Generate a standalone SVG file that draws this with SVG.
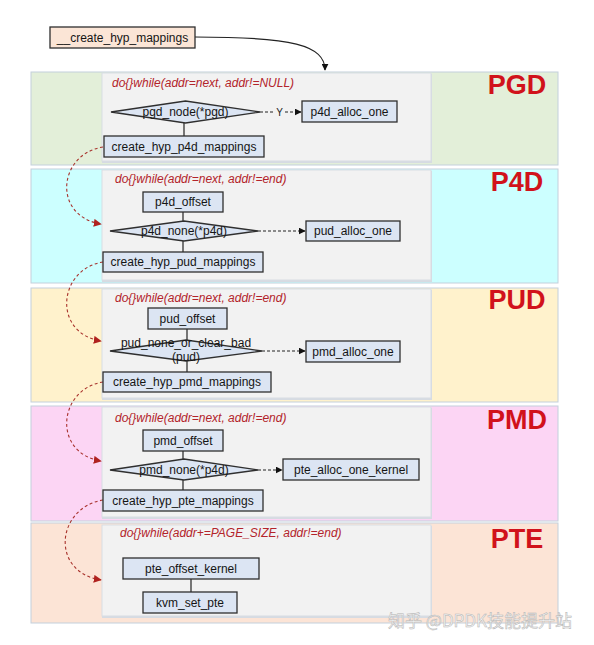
<svg xmlns="http://www.w3.org/2000/svg" width="594" height="645" viewBox="0 0 594 645">
<style>
.band{stroke:#c3d0dc;stroke-width:1}
.inner{fill:#f2f2f2;stroke:#d8dde3;stroke-width:1}
.shadow{fill:#d6dbe2}
.box{fill:#dce5f3;stroke:#2f2f2f;stroke-width:1.3}
.t{font-family:"Liberation Sans",Arial,sans-serif;font-size:12px;fill:#151515;text-anchor:middle}
.loop{font-family:"Liberation Sans",Arial,sans-serif;font-size:12px;font-style:italic;fill:#b3242b}
.lvl{font-family:"Liberation Sans",Arial,sans-serif;font-size:27px;font-weight:bold;fill:#d1121b;text-anchor:middle}
.solid{stroke:#222;stroke-width:1.2;fill:none}
.dash{stroke:#222;stroke-width:1.1;fill:none;stroke-dasharray:3 2}
.rdash{stroke:#a8322c;stroke-width:1.1;fill:none;stroke-dasharray:3 2.5}
</style>
<defs>
<marker id="ab" viewBox="0 0 10 10" refX="9" refY="5" markerWidth="7" markerHeight="7" orient="auto" markerUnits="userSpaceOnUse"><path d="M0,0 L10,5 L0,10 z" fill="#111"/></marker>
<marker id="ar" viewBox="0 0 10 10" refX="9" refY="5" markerWidth="8" markerHeight="8" orient="auto" markerUnits="userSpaceOnUse"><path d="M0,0 L10,5 L0,10 z" fill="#b0221f"/></marker>
</defs>
<rect width="594" height="645" fill="#fff"/>

<!-- bands -->
<g id="band-pgd">
<rect class="band" x="31" y="72" width="527" height="93" fill="#e3efd9"/>
<rect class="shadow" x="102" y="74" width="330" height="89"/>
<rect class="inner" x="102" y="73" width="329" height="88"/>
<text class="lvl" x="517" y="94">PGD</text>
<text class="loop" x="112" y="87">do{}while(addr=next, addr!=NULL)</text>
</g>
<g id="band-p4d">
<rect class="band" x="31" y="169" width="527" height="114" fill="#ccffff"/>
<rect class="shadow" x="102" y="171" width="330" height="111"/>
<rect class="inner" x="102" y="170" width="329" height="110"/>
<text class="lvl" x="517" y="191">P4D</text>
<text class="loop" x="115" y="183">do{}while(addr=next, addr!=end)</text>
</g>
<g id="band-pud">
<rect class="band" x="31" y="288" width="527" height="114" fill="#fff2cc"/>
<rect class="shadow" x="102" y="290" width="330" height="110"/>
<rect class="inner" x="102" y="289" width="329" height="109"/>
<text class="lvl" x="517" y="309">PUD</text>
<text class="loop" x="115" y="302">do{}while(addr=next, addr!=end)</text>
</g>
<g id="band-pmd">
<rect class="band" x="31" y="406" width="527" height="115" fill="#fcd5f4"/>
<rect class="shadow" x="102" y="408" width="330" height="111"/>
<rect class="inner" x="102" y="407" width="329" height="110"/>
<text class="lvl" x="517" y="429">PMD</text>
<text class="loop" x="115" y="422">do{}while(addr=next, addr!=end)</text>
</g>
<g id="band-pte">
<rect class="band" x="31" y="523" width="527" height="100" fill="#fce4d6"/>
<rect class="shadow" x="102" y="526" width="330" height="92"/>
<rect class="inner" x="102" y="525" width="329" height="91"/>
<text class="lvl" x="517" y="548">PTE</text>
<text class="loop" x="120" y="537">do{}while(addr+=PAGE_SIZE, addr!=end)</text>
</g>

<!-- connectors -->
<g id="connectors">
<path class="solid" d="M195,37 C292,37 325,45 325,70" marker-end="url(#ab)"/>
<line class="solid" x1="184" y1="123" x2="184" y2="136"/>
<path class="dash" d="M260,112 H274 M285,112 H301" marker-end="url(#ab)"/>
<text x="279.5" y="116" style="font-family:'Liberation Sans',Arial,sans-serif;font-size:10px;fill:#222;text-anchor:middle">Y</text>
<path class="rdash" d="M103,147 C58,154 52,216 101,224" marker-end="url(#ar)"/>

<line class="solid" x1="183" y1="212" x2="183" y2="221"/>
<line class="solid" x1="183" y1="241" x2="183" y2="252"/>
<path class="dash" d="M258,231 H305" marker-end="url(#ab)"/>
<path class="rdash" d="M103,262 C58,269 52,333 101,341" marker-end="url(#ar)"/>

<line class="solid" x1="187" y1="329" x2="187" y2="340"/>
<line class="solid" x1="187" y1="361" x2="187" y2="372"/>
<path class="dash" d="M262,351 H305" marker-end="url(#ab)"/>
<path class="rdash" d="M103,382 C58,389 52,453 101,461" marker-end="url(#ar)"/>

<line class="solid" x1="183" y1="451" x2="183" y2="459"/>
<line class="solid" x1="183" y1="480" x2="183" y2="490"/>
<path class="dash" d="M258,470 H282" marker-end="url(#ab)"/>
<path class="rdash" d="M103,500 C56,508 50,572 101,580" marker-end="url(#ar)"/>

<line class="solid" x1="191" y1="579" x2="191" y2="592"/>
</g>

<!-- nodes -->
<g id="n-create-hyp-mappings">
<rect x="50" y="27" width="145" height="21" fill="#fbe5d6" stroke="#2f2f2f" stroke-width="1.3"/>
<text class="t" x="122.5" y="42">__create_hyp_mappings</text>
</g>
<g id="n-pgd-node">
<polygon class="box" points="111,112 185.5,101 260,112 185.5,123"/>
<text class="t" x="185.5" y="116">pgd_node(*pgd)</text>
</g>
<g id="n-p4d-alloc-one">
<rect class="box" x="302" y="101" width="95" height="21"/>
<text class="t" x="349.5" y="116">p4d_alloc_one</text>
</g>
<g id="n-create-hyp-p4d">
<rect class="box" x="104" y="136" width="160" height="21"/>
<text class="t" x="184" y="151">create_hyp_p4d_mappings</text>
</g>

<g id="n-p4d-offset">
<rect class="box" x="143" y="192" width="80" height="20"/>
<text class="t" x="183" y="206">p4d_offset</text>
</g>
<g id="n-p4d-none">
<polygon class="box" points="110,231 184,221 258,231 184,241"/>
<text class="t" x="184" y="235">p4d_none(*p4d)</text>
</g>
<g id="n-pud-alloc-one">
<rect class="box" x="306" y="221" width="94" height="20"/>
<text class="t" x="353" y="235">pud_alloc_one</text>
</g>
<g id="n-create-hyp-pud">
<rect class="box" x="103" y="252" width="160" height="20"/>
<text class="t" x="183" y="266">create_hyp_pud_mappings</text>
</g>

<g id="n-pud-offset">
<rect class="box" x="148" y="308" width="79" height="21"/>
<text class="t" x="187.5" y="323">pud_offset</text>
</g>
<g id="n-pud-none">
<polygon class="box" points="110,351 186,340 262,351 186,361"/>
<text class="t" x="186" y="347">pud_none_or_clear_bad</text>
<text class="t" x="186" y="361">(pud)</text>
</g>
<g id="n-pmd-alloc-one">
<rect class="box" x="306" y="341" width="94" height="21"/>
<text class="t" x="353" y="356">pmd_alloc_one</text>
</g>
<g id="n-create-hyp-pmd">
<rect class="box" x="103" y="372" width="168" height="20"/>
<text class="t" x="187" y="386">create_hyp_pmd_mappings</text>
</g>

<g id="n-pmd-offset">
<rect class="box" x="143" y="430" width="80" height="21"/>
<text class="t" x="183" y="445">pmd_offset</text>
</g>
<g id="n-pmd-none">
<polygon class="box" points="110,470 184,459 258,470 184,480"/>
<text class="t" x="184" y="474">pmd_none(*p4d)</text>
</g>
<g id="n-pte-alloc-one-kernel">
<rect class="box" x="283" y="459" width="136" height="21"/>
<text class="t" x="351" y="474">pte_alloc_one_kernel</text>
</g>
<g id="n-create-hyp-pte">
<rect class="box" x="103" y="490" width="160" height="21"/>
<text class="t" x="183" y="505">create_hyp_pte_mappings</text>
</g>

<g id="n-pte-offset-kernel">
<rect class="box" x="123" y="558" width="136" height="21"/>
<text class="t" x="191" y="573">pte_offset_kernel</text>
</g>
<g id="n-kvm-set-pte">
<rect class="box" x="143" y="592" width="94" height="21"/>
<text class="t" x="190" y="607">kvm_set_pte</text>
</g>

<text x="388" y="627" style="font-family:'Noto Sans CJK SC','Liberation Sans',sans-serif;font-size:17px;fill:#f4f4f4;stroke:#b4b4b4;stroke-width:0.5">知乎 @DPDK技能提升站</text>
</svg>
